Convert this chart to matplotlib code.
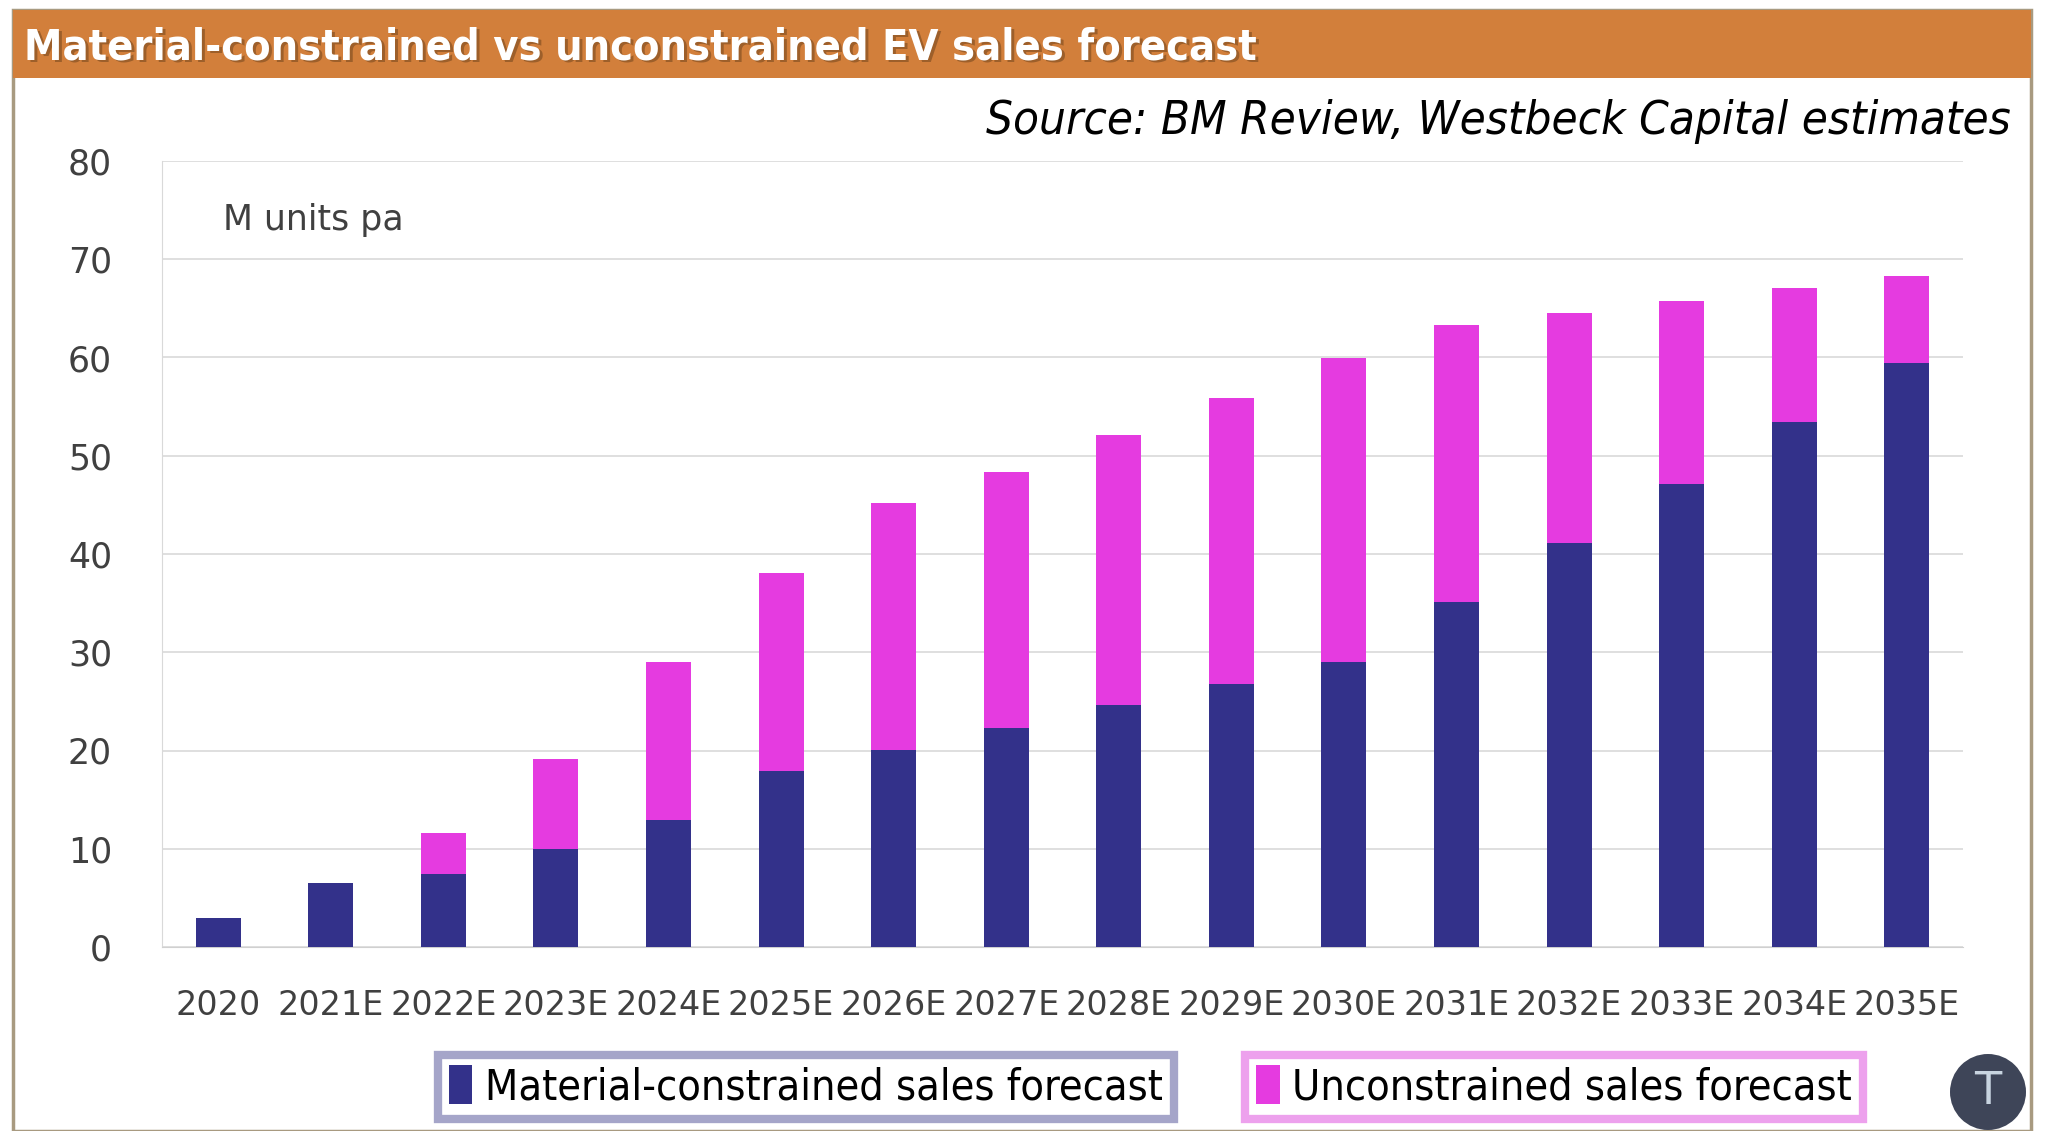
import numpy as np
import matplotlib.pyplot as plt
from matplotlib.patches import Rectangle, Ellipse, Patch

# Data (M units per annum)
years = ['2020', '2021E', '2022E', '2023E', '2024E', '2025E', '2026E', '2027E',
         '2028E', '2029E', '2030E', '2031E', '2032E', '2033E', '2034E', '2035E']
constrained = [3.0, 6.5, 7.4, 10.0, 12.9, 17.9, 20.1, 22.3,
               24.6, 26.8, 29.0, 35.1, 41.1, 47.1, 53.4, 59.4]
unconstrained_total = [3.0, 6.5, 11.6, 19.1, 29.0, 38.1, 45.2, 48.3,
                       52.1, 55.9, 60.0, 63.3, 64.5, 65.8, 67.1, 68.3]
gap = [t - c for t, c in zip(unconstrained_total, constrained)]

navy = '#33318A'
magenta = '#E53BE0'

fig = plt.figure(figsize=(20.48, 11.31), dpi=100)
fig.patch.set_facecolor('white')

# outer frame + orange header
fig.add_artist(Rectangle((13 / 2048, 0), (2031 - 13) / 2048, 1 - 10 / 1131,
                         transform=fig.transFigure, facecolor='white',
                         edgecolor='#A89A80', lw=2.5, zorder=0))
fig.add_artist(Rectangle((13 / 2048, 1 - 78 / 1131), (2031 - 13) / 2048, 68 / 1131,
                         transform=fig.transFigure, facecolor='#D27F3B',
                         edgecolor='none', zorder=1))
title = 'Material-constrained vs unconstrained EV sales forecast'
fig.text(24 / 2048 + 0.0015, 1 - 47 / 1131 - 0.002, title,
         color='#7A4A20', fontsize=31, fontweight='bold', fontstretch='condensed',
         va='center', ha='left', zorder=2, alpha=0.6)
fig.text(24 / 2048, 1 - 47 / 1131, title,
         color='white', fontsize=31, fontweight='bold', fontstretch='condensed',
         va='center', ha='left', zorder=3)
fig.text(2011 / 2048, 1 - 121 / 1131,
         'Source: BM Review, Westbeck Capital estimates',
         color='black', fontsize=34, style='italic', fontstretch='condensed',
         va='center', ha='right')

ax = fig.add_axes([162 / 2048, 1 - 947 / 1131, (1963 - 162) / 2048, (947 - 161) / 1131])
x = np.arange(len(years))
ax.bar(x, constrained, width=0.4, color=navy, zorder=3)
ax.bar(x, gap, bottom=constrained, width=0.4, color=magenta, zorder=3)

ax.set_xlim(-0.5, len(years) - 0.5)
ax.set_ylim(0, 80)
ax.set_yticks(range(0, 81, 10))
ax.set_xticks(x)
ax.set_xticklabels(years)
ax.grid(axis='y', color='#D9D9D9', lw=1.2, zorder=0)
for s in ['top', 'right']:
    ax.spines[s].set_visible(False)
ax.spines['left'].set_color('#D9D9D9')
ax.spines['bottom'].set_color('#D0D0D0')
ax.tick_params(axis='y', length=0, labelsize=25, labelcolor='#404040', pad=36)
ax.tick_params(axis='x', length=0, labelsize=24, labelcolor='#404040', pad=30)
ax.text(0.034, 0.925, 'M units pa', transform=ax.transAxes, fontsize=25,
        color='#404040', va='center', ha='left')

# legends, each in its own box
leg_font = {'size': 31, 'stretch': 'condensed'}
leg1 = fig.legend(handles=[Patch(facecolor=navy, edgecolor='none')],
                  labels=['Material-constrained sales forecast'],
                  loc='center', bbox_to_anchor=(806 / 2048, 1 - 1087 / 1131),
                  handlelength=0.55, handleheight=1.0, handletextpad=0.3,
                  fancybox=False, edgecolor='#8F8FBC', borderpad=0.25,
                  prop=leg_font)
leg1.get_frame().set_linewidth(6)
leg2 = fig.legend(handles=[Patch(facecolor=magenta, edgecolor='none')],
                  labels=['Unconstrained sales forecast'],
                  loc='center', bbox_to_anchor=(1554 / 2048, 1 - 1087 / 1131),
                  handlelength=0.55, handleheight=1.0, handletextpad=0.3,
                  fancybox=False, edgecolor='#E98AE9', borderpad=0.25,
                  prop=leg_font)
leg2.get_frame().set_linewidth(6)

# corner logo (round in pixels)
fig.add_artist(Ellipse((1988 / 2048, 1 - 1092 / 1131), 76 / 2048, 76 / 1131,
                       transform=fig.transFigure, facecolor='#3E4558',
                       edgecolor='none'))
fig.text(1988 / 2048, 1 - 1092 / 1131, 'T', color='#C8D4E0', fontsize=32,
         ha='center', va='center')

fig.savefig('out.png', dpi=100)
